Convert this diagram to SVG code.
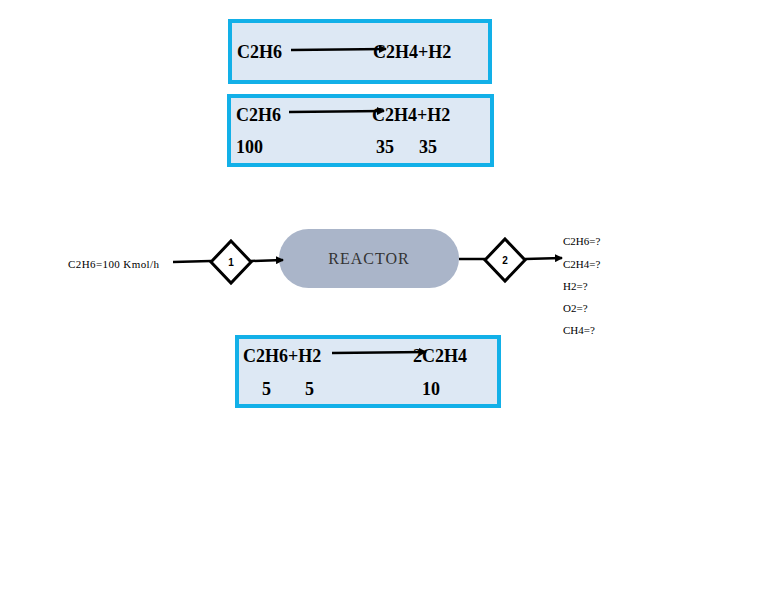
<svg xmlns="http://www.w3.org/2000/svg" width="768" height="594" viewBox="0 0 768 594">
<style>
.box{fill:#dde8f4;stroke:#12b0e8;stroke-width:4}
.eq{font-family:"Liberation Serif",serif;font-weight:bold;font-size:18px;fill:#000}
.sm{font-family:"Liberation Serif",serif;font-size:11px;fill:#000}
.ln{stroke:#000;stroke-width:2.5;fill:none}
.dm{fill:#fff;stroke:#000;stroke-width:3}
.nm{font-family:"Liberation Sans",sans-serif;font-weight:bold;font-size:10px;fill:#000}
</style>
<defs><marker id="ah" markerWidth="8" markerHeight="8" refX="7" refY="4" orient="auto" markerUnits="userSpaceOnUse"><path d="M0,0 L8,4 L0,8 z" fill="#000"/></marker></defs>
<rect width="768" height="594" fill="#fff"/>
<g id="box1"><rect class="box" x="230" y="21" width="260" height="61"/>
<text class="eq" x="237" y="58">C2H6</text><text class="eq" x="373" y="58">C2H4+H2</text></g>
<g id="box2"><rect class="box" x="229" y="96" width="263" height="69"/>
<text class="eq" x="236" y="121">C2H6</text><text class="eq" x="372" y="121">C2H4+H2</text>
<text class="eq" x="236" y="153">100</text><text class="eq" x="376" y="153">35</text><text class="eq" x="419" y="153">35</text></g>
<g id="box3"><rect class="box" x="237" y="337" width="262" height="69"/>
<text class="eq" x="243" y="362">C2H6+H2</text><text class="eq" x="413" y="362">2C2H4</text>
<text class="eq" x="262" y="395">5</text><text class="eq" x="305" y="395">5</text><text class="eq" x="422" y="395">10</text></g>
<g id="feed"><text class="sm" x="68" y="268" textLength="91">C2H6=100 Kmol/h</text></g>
<g id="d1"><polygon class="dm" points="231,241 251,262 231,283 211,262"/><text class="nm" x="231" y="266" text-anchor="middle">1</text></g>
<g id="reactor"><rect x="279" y="229" width="180" height="59" rx="29.5" fill="#aab5c9"/><text x="369" y="264" text-anchor="middle" font-family="Liberation Serif" font-size="16" letter-spacing="1" fill="#333">REACTOR</text></g>
<g id="d2"><polygon class="dm" points="505,239 525,260 505,281 485,260"/><text class="nm" x="505" y="264" text-anchor="middle">2</text></g>
<g id="out"><text class="sm" x="563" y="245">C2H6=?</text><text class="sm" x="563" y="268">C2H4=?</text><text class="sm" x="563" y="290">H2=?</text><text class="sm" x="563" y="312">O2=?</text><text class="sm" x="563" y="334">CH4=?</text></g>
<g id="connectors">
<line class="ln" x1="291" y1="50" x2="386" y2="49" marker-end="url(#ah)"/>
<line class="ln" x1="289" y1="112" x2="384" y2="111" marker-end="url(#ah)"/>
<line class="ln" x1="332" y1="353" x2="426" y2="352" marker-end="url(#ah)"/>
<line class="ln" x1="173" y1="262" x2="211" y2="261"/>
<line class="ln" x1="251" y1="261" x2="283" y2="260" marker-end="url(#ah)"/>
<line class="ln" x1="459" y1="259" x2="485" y2="259"/>
<line class="ln" x1="525" y1="259" x2="562" y2="258" marker-end="url(#ah)"/>
</g>
</svg>
